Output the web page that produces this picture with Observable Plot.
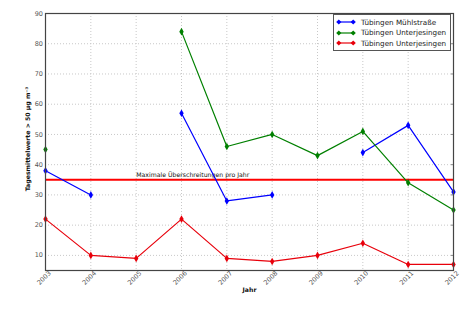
<!DOCTYPE html>
<html>
<head>
<meta charset="utf-8">
<script src="https://cdn.jsdelivr.net/npm/d3@7"></script>
<script src="https://cdn.jsdelivr.net/npm/@observablehq/plot@0.6"></script>
<style>
  html, body { margin: 0; padding: 0; background: #fff; }
  #wrap { position: relative; width: 474px; height: 313px; font-family: "DejaVu Sans", sans-serif; }
  #legend { position: absolute; left: 333px; top: 14px; width: 114px; height: 33px; border: 1px solid #555; background: #fff;
            font-size: 7.2px; color: #222; padding: 2px 0 0 2px; }
  #legend div { display: flex; align-items: center; height: 10.5px; white-space: nowrap; }
  #legend svg { margin-right: 5px; }
</style>
</head>
<body>
<div id="wrap"><div id="legend"></div></div>
<script>
// Jahre und Anzahl der Tage mit Tagesmittelwerten > 50 µg/m³ (PM10)
const years = [2003, 2004, 2005, 2006, 2007, 2008, 2009, 2010, 2011, 2012];
const muehlstrasse   = [38, 30, null, 57, 28, 30, null, 44, 53, 31];
const unterjesingenA = [45, null, null, 84, 46, 50, 43, 51, 34, 25];
const unterjesingenB = [22, 10, 9, 22, 9, 8, 10, 14, 7, 7];
const seriesNames  = ["Tübingen Mühlstraße", "Tübingen Unterjesingen", "Tübingen Unterjesingen"];
const seriesColors = ["#0000ff", "#008000", "#e8000b"];
const limitValue = 35;
const limitLabel = "Maximale Überschreitungen pro Jahr";
const yTicks = [10, 20, 30, 40, 50, 60, 70, 80, 90];

const seriesValues = [muehlstrasse, unterjesingenA, unterjesingenB];
const rows = seriesValues.flatMap((vals, i) =>
  years.map((yr, j) => ({series: i, year: yr, value: vals[j]})));
const defined = rows.filter(d => d.value != null);

const chart = Plot.plot({
  width: 474,
  height: 313,
  marginLeft: 45,
  marginRight: 21,
  marginTop: 13,
  marginBottom: 43,
  style: {fontFamily: "DejaVu Sans, sans-serif", fontSize: "6.5px", background: "#fff"},
  x: {domain: [2003, 2012], label: null, axis: null},
  y: {domain: [5, 90], label: null},
  marks: [
    Plot.gridX(years, {stroke: "#c8c8c8", strokeOpacity: 1, strokeDasharray: "1,2"}),
    Plot.gridY(yTicks, {stroke: "#c8c8c8", strokeOpacity: 1, strokeDasharray: "1,2"}),
    Plot.axisY(yTicks, {anchor: "left", tickSize: 0, tickPadding: 2.5, fill: "#555", fontSize: 6.5, label: null}),
    Plot.axisY(yTicks, {anchor: "right", tickSize: -3, text: null, stroke: "#888"}),
    Plot.text(years, {x: d => d, frameAnchor: "bottom", dy: 9, rotate: -45, textAnchor: "middle",
                      text: d => String(d), fill: "#555", fontSize: 6.5}),
    Plot.ruleY([limitValue], {stroke: "#ff0000", strokeWidth: 2}),
    Plot.text([limitLabel], {x: 2005, y: limitValue, dy: -5, textAnchor: "start", fill: "#111", fontSize: 6.2}),
    Plot.line(rows, {x: "year", y: "value", z: "series", stroke: d => seriesColors[d.series], strokeWidth: 1.2}),
    Plot.dot(defined, {x: "year", y: "value", symbol: "diamond", r: 2.3, fill: d => seriesColors[d.series], stroke: "none"}),
    Plot.text(["Jahr"], {frameAnchor: "bottom", dy: 21.5, fontWeight: "bold", fill: "#111", fontSize: 6.2}),
    Plot.text(["Tagesmittelwerte > 50 µg m⁻³"], {frameAnchor: "left", dx: -17, dy: -3, rotate: -90, textAnchor: "middle",
               fontWeight: "bold", fill: "#111", fontSize: 6.2}),
    Plot.frame({stroke: "#444", strokeWidth: 1.2})
  ]
});
chart.style.position = "absolute";
chart.style.left = "0px";
chart.style.top = "0px";
const wrap = document.getElementById("wrap");
wrap.insertBefore(chart, wrap.firstChild);

// Legende
const legend = document.getElementById("legend");
seriesNames.forEach((name, i) => {
  const row = document.createElement("div");
  row.innerHTML = `<svg width="20" height="8"><line x1="2" x2="18" y1="4" y2="4" stroke="${seriesColors[i]}" stroke-width="1.2"/>` +
    `<path d="M0,1.4L2.6,4L0,6.6L-2.6,4Z" transform="translate(2.8,0)" fill="${seriesColors[i]}"/>` +
    `<path d="M0,1.4L2.6,4L0,6.6L-2.6,4Z" transform="translate(17.2,0)" fill="${seriesColors[i]}"/></svg><span>${name}</span>`;
  legend.appendChild(row);
});
</script>
</body>
</html>
